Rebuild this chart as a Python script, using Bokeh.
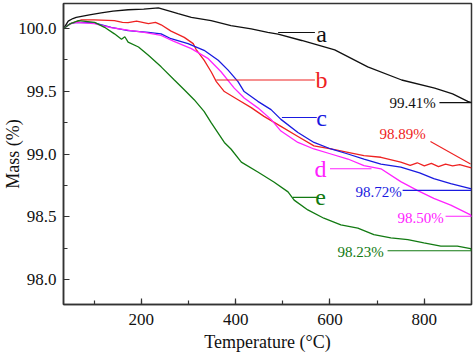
from bokeh.plotting import figure
from bokeh.models import Range1d, SingleIntervalTicker, PrintfTickFormatter, Label
from bokeh.embed import file_html
from bokeh.resources import INLINE

# ---- data ----
a_T = [35, 45, 55, 62, 90, 115, 140, 172, 205, 236, 260, 278, 306, 348, 390, 433, 468, 490, 540, 610, 680, 752, 822, 860, 892, 900]
a_M = [100.00, 100.06, 100.08, 100.09, 100.11, 100.125, 100.14, 100.15, 100.155, 100.165, 100.14, 100.12, 100.09, 100.063, 100.024, 99.998, 99.97, 99.955, 99.905, 99.83, 99.695, 99.59, 99.525, 99.48, 99.42, 99.41]

b_T = [35, 50, 73, 100, 143, 160, 172, 190, 215, 230, 242, 263, 291, 310, 316, 333, 348, 359, 376, 405, 433, 460, 496, 532, 566, 602, 638, 672, 708, 750, 770, 785, 800, 815, 830, 845, 860, 875, 890, 900]
b_M = [100.00, 100.04, 100.07, 100.07, 100.063, 100.05, 100.047, 100.06, 100.04, 100.05, 100.03, 99.98, 99.93, 99.88, 99.835, 99.748, 99.656, 99.577, 99.498, 99.433, 99.37, 99.30, 99.22, 99.14, 99.065, 99.04, 99.013, 98.987, 98.974, 98.935, 98.91, 98.93, 98.905, 98.925, 98.90, 98.92, 98.905, 98.915, 98.90, 98.89]

c_T = [35, 50, 62, 100, 136, 172, 215, 242, 263, 299, 333, 363, 384, 405, 418, 447, 475, 496, 532, 566, 602, 638, 672, 708, 750, 790, 820, 856, 898, 900]
c_M = [100.00, 100.04, 100.05, 100.045, 100.01, 99.984, 99.97, 99.958, 99.919, 99.88, 99.827, 99.748, 99.669, 99.577, 99.498, 99.42, 99.354, 99.276, 99.171, 99.092, 99.04, 99.00, 98.96, 98.92, 98.895, 98.85, 98.803, 98.764, 98.724, 98.72]

d_T = [35, 50, 62, 100, 136, 175, 206, 242, 268, 306, 342, 369, 397, 418, 447, 475, 496, 532, 566, 602, 638, 672, 708, 750, 785, 820, 856, 898, 900]
d_M = [100.00, 100.04, 100.05, 100.04, 100.008, 99.985, 99.97, 99.945, 99.90, 99.84, 99.76, 99.656, 99.525, 99.446, 99.368, 99.276, 99.183, 99.092, 99.04, 99.00, 98.96, 98.908, 98.882, 98.78, 98.71, 98.646, 98.593, 98.514, 98.50]

e_T = [35, 50, 67, 101, 122, 143, 158, 165, 172, 194, 215, 242, 270, 291, 312, 333, 348, 376, 390, 412, 447, 481, 511, 524, 553, 587, 623, 659, 693, 729, 765, 799, 835, 870, 898, 900]
e_M = [100.00, 100.04, 100.063, 100.05, 100.01, 99.958, 99.915, 99.935, 99.892, 99.853, 99.787, 99.695, 99.59, 99.512, 99.433, 99.34, 99.25, 99.092, 99.04, 98.935, 98.856, 98.777, 98.698, 98.632, 98.554, 98.488, 98.435, 98.409, 98.357, 98.331, 98.317, 98.291, 98.265, 98.265, 98.246, 98.23]

x_ticks_step = 200
y_ticks_step = 0.5

BLACK = "#111111"
RED = "#ee2222"
BLUE = "#1a1ae0"
MAGENTA = "#ff22ff"
GREEN = "#127a12"

FONT = "'Liberation Serif', 'Times New Roman', 'DejaVu Serif', serif"

p = figure(width=474, height=354, output_backend="svg", toolbar_location=None,
           x_range=Range1d(35, 900), y_range=Range1d(97.8, 100.2),
           min_border_left=4, min_border_right=3, min_border_top=3, min_border_bottom=2)

p.grid.visible = False
p.background_fill_color = "white"
p.border_fill_color = "white"
p.outline_line_color = "#333333"
p.outline_line_width = 1.5

p.xaxis.ticker = SingleIntervalTicker(interval=x_ticks_step, num_minor_ticks=2)
p.yaxis.ticker = SingleIntervalTicker(interval=y_ticks_step, num_minor_ticks=2)
p.yaxis.formatter = PrintfTickFormatter(format="%.1f")

for ax in (p.xaxis[0], p.yaxis[0]):
    ax.major_tick_in = 6
    ax.major_tick_out = 0
    ax.minor_tick_in = 4
    ax.minor_tick_out = 0
    ax.axis_line_width = 1.5
    ax.axis_line_color = "#333333"
    ax.major_tick_line_color = "#333333"
    ax.minor_tick_line_color = "#333333"
    ax.major_tick_line_width = 1.2
    ax.minor_tick_line_width = 1.2
    ax.major_label_text_font = FONT
    ax.major_label_text_font_size = "17px"
    ax.major_label_text_color = "#111111"
    ax.axis_label_text_font = FONT
    ax.axis_label_text_font_size = "18px"
    ax.axis_label_text_font_style = "normal"
    ax.axis_label_text_color = "#111111"

p.xaxis.axis_label = "Temperature (°C)"
p.yaxis.axis_label = "Mass (%)"
p.xaxis.major_label_standoff = 9
p.yaxis.major_label_standoff = 7
p.xaxis.axis_label_standoff = 4
p.yaxis.axis_label_standoff = -8

series = [(a_T, a_M, BLACK), (b_T, b_M, RED), (c_T, c_M, BLUE), (d_T, d_M, MAGENTA), (e_T, e_M, GREEN)]
for T, M, col in series:
    p.line(T, M, line_color=col, line_width=1.3)

# leader lines
segs = [
    (490, 99.969, 568, 99.969, BLACK),
    (359, 99.59, 568, 99.59, RED),
    (498, 99.291, 572, 99.291, BLUE),
    (600, 98.882, 688, 98.882, MAGENTA),
    (521, 98.654, 576, 98.654, GREEN),
    (832, 99.41, 900, 99.41, BLACK),
    (813, 99.10, 898, 98.92, RED),
    (754, 98.71, 900, 98.71, BLUE),
    (845, 98.504, 900, 98.504, MAGENTA),
    (722, 98.228, 900, 98.228, GREEN),
]
for x0, y0, x1, y1, col in segs:
    p.segment(x0=[x0], y0=[y0], x1=[x1], y1=[y1], line_color=col, line_width=1.1)

letters = [("a", 582, 99.96, BLACK), ("b", 582, 99.59, RED), ("c", 582, 99.291, BLUE),
           ("d", 580, 98.882, MAGENTA), ("e", 580, 98.654, GREEN)]
for t, x, y, col in letters:
    p.add_layout(Label(x=x, y=y, text=t, text_color=col, text_font=FONT, text_font_size="24px",
                       text_align="center", text_baseline="middle"))

pcts = [("99.41%", 775, 99.409, BLACK), ("98.89%", 754, 99.157, RED), ("98.72%", 703, 98.70, BLUE),
        ("98.50%", 792, 98.488, MAGENTA), ("98.23%", 665, 98.22, GREEN)]
for t, x, y, col in pcts:
    p.add_layout(Label(x=x, y=y, text=t, text_color=col, text_font=FONT, text_font_size="15px",
                       text_align="center", text_baseline="middle"))

open("out.html", "w").write(file_html(p, INLINE))
